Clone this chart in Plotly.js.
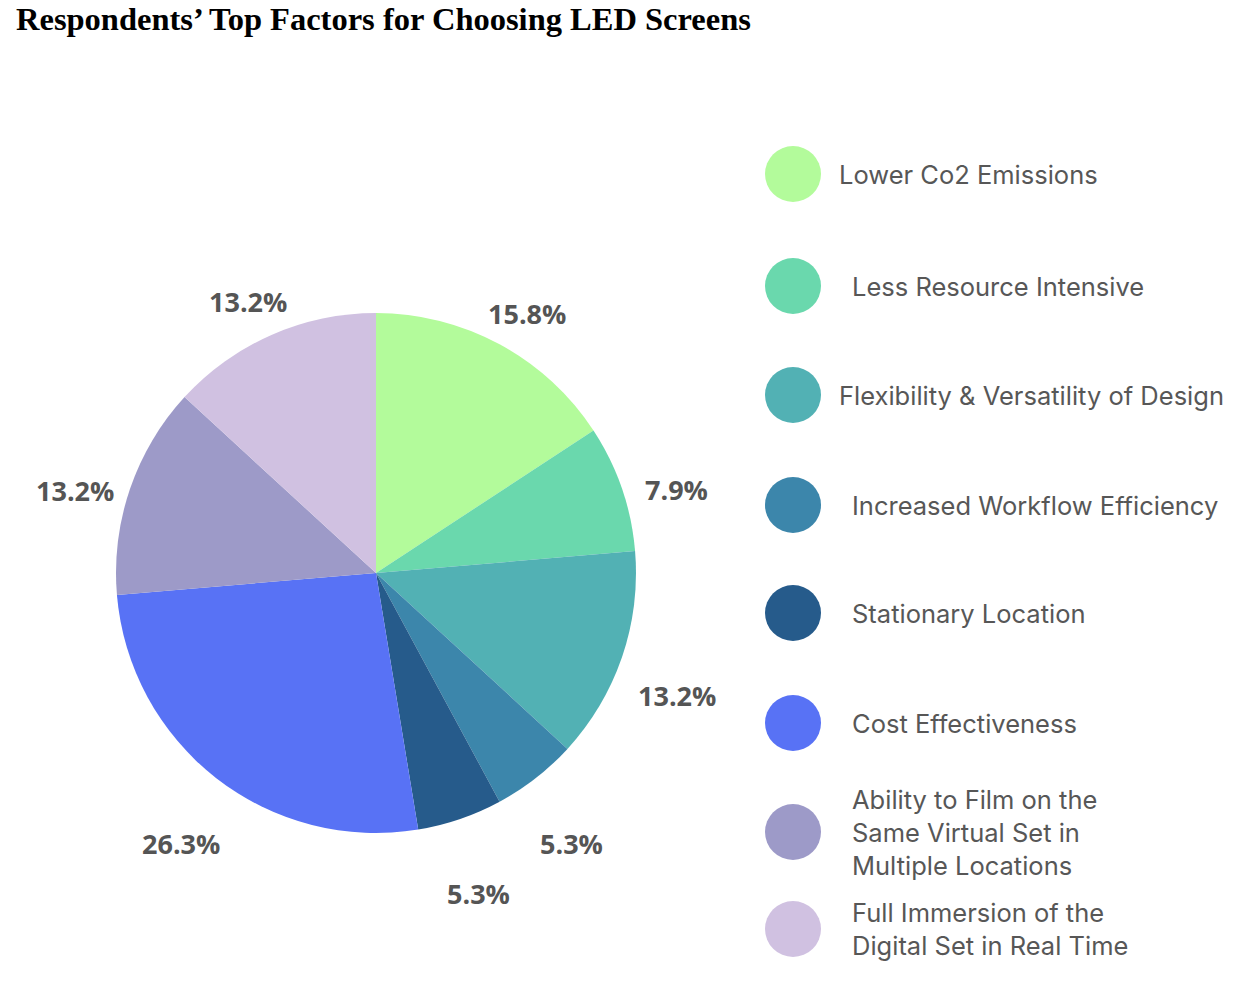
<!DOCTYPE html>
<html>
<head>
<meta charset="utf-8">
<script src="https://cdn.plot.ly/plotly-3.0.1.min.js"></script>
<style>
  html, body { margin: 0; padding: 0; background: #ffffff; }
  #chart { width: 1235px; height: 1000px; }
</style>
</head>
<body>
<div id="chart"></div>
<script>
// Survey results: share of respondents naming each factor
const factors = [
  "Lower Co2 Emissions",
  "Less Resource Intensive",
  "Flexibility & Versatility of Design",
  "Increased Workflow Efficiency",
  "Stationary Location",
  "Cost Effectiveness",
  "Ability to Film on the<br>Same Virtual Set in<br>Multiple Locations",
  "Full Immersion of the<br>Digital Set in Real Time"
];
const shares = [15.8, 7.9, 13.2, 5.3, 5.3, 26.3, 13.2, 13.2];

// Styling
const sliceColors = ["#b3fb9b", "#6ad8ad", "#52b1b4", "#3c86ab", "#265b8b", "#5872f5", "#9d9ac8", "#d0c1e1"];
const W = 1235, H = 1000;
const PIE = { cx: 376, cy: 573, r: 260 };       // pie centre and radius in px
const LABEL_RADIUS = 318, LABEL_DROP = 20;      // percent label ring
const legendRowY = [174, 286, 395, 505, 613, 723, 832, 929];
const legendIndent = [0, 1, 0, 1, 1, 1, 1, 1];
const LEGEND_DOT_X = 793, LEGEND_TEXT_X = 837, INDENT_PX = 13;

const total = shares.reduce((a, b) => a + b, 0);

// Percent labels placed around the pie at each slice's mid angle
const annotations = [];
let cum = 0;
shares.forEach((v) => {
  const mid = (cum + v / 2) / total * 2 * Math.PI;  // clockwise from 12 o'clock
  cum += v;
  annotations.push({
    xref: "x", yref: "y",
    x: PIE.cx + LABEL_RADIUS * Math.sin(mid),
    y: PIE.cy + LABEL_DROP - LABEL_RADIUS * Math.cos(mid),
    text: "<b>" + v.toFixed(1) + "%</b>",
    showarrow: false,
    xanchor: "center", yanchor: "middle",
    font: { family: "Open Sans", size: 27, color: "#555555" }
  });
});

// Legend entries
factors.forEach((name, i) => {
  annotations.push({
    xref: "x", yref: "y",
    x: LEGEND_TEXT_X + legendIndent[i] * INDENT_PX,
    y: legendRowY[i],
    text: name,
    showarrow: false,
    align: "left",
    xanchor: "left", yanchor: "middle",
    font: { family: "Inter", size: 25.5, color: "#575757" }
  });
});

// Chart heading
annotations.push({
  xref: "paper", yref: "paper",
  x: 14 / W, y: 1 - 19 / H,
  xanchor: "left", yanchor: "middle",
  text: "<b>Respondents’ Top Factors for Choosing LED Screens</b>",
  showarrow: false,
  font: { family: "Liberation Serif", size: 32.5, color: "#000000" }
});

const pieTrace = {
  type: "pie",
  labels: factors,
  values: shares,
  sort: false,
  direction: "clockwise",
  rotation: 0,
  marker: { colors: sliceColors, line: { width: 0 } },
  textinfo: "none",
  hoverinfo: "none",
  showlegend: false,
  domain: {
    x: [(PIE.cx - PIE.r) / W, (PIE.cx + PIE.r) / W],
    y: [1 - (PIE.cy + PIE.r) / H, 1 - (PIE.cy - PIE.r) / H]
  }
};

const legendDots = {
  type: "scatter",
  mode: "markers",
  x: factors.map(() => LEGEND_DOT_X),
  y: legendRowY,
  marker: { size: 56, color: sliceColors, line: { width: 0 } },
  hoverinfo: "skip",
  showlegend: false
};

const layout = {
  width: W, height: H,
  margin: { l: 0, r: 0, t: 0, b: 0 },
  paper_bgcolor: "#ffffff",
  plot_bgcolor: "rgba(0,0,0,0)",
  xaxis: { range: [0, W], visible: false, fixedrange: true },
  yaxis: { range: [H, 0], visible: false, fixedrange: true },
  showlegend: false,
  annotations: annotations
};

Plotly.newPlot("chart", [pieTrace, legendDots], layout, { displayModeBar: false, staticPlot: true });
</script>
</body>
</html>
